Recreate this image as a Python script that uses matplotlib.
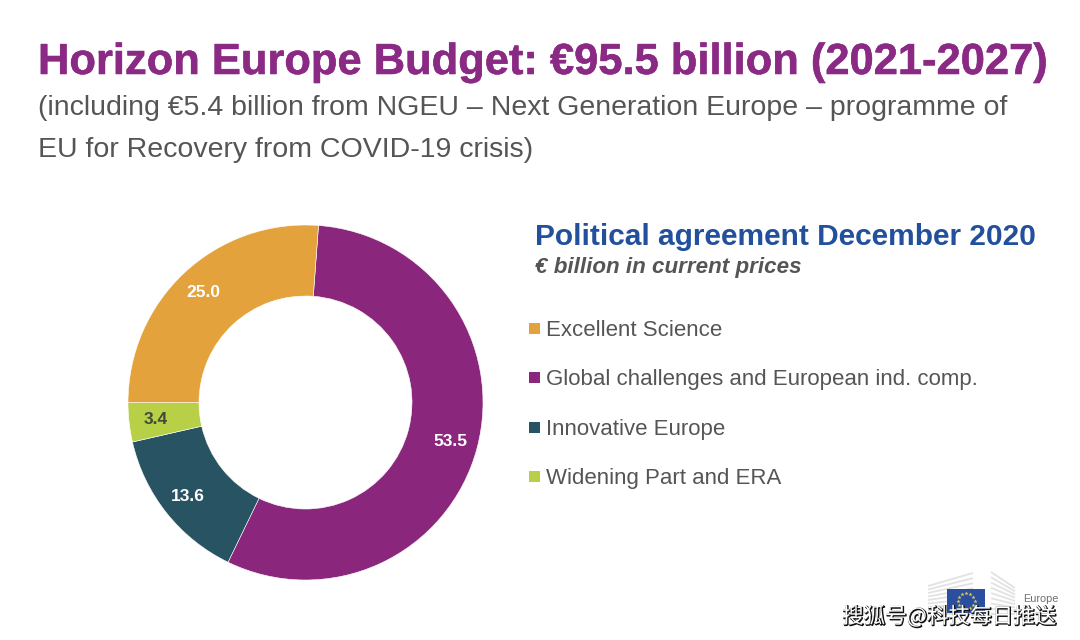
"""
Horizon Europe budget donut, drawn on a pixel-sized canvas.
"""

import matplotlib

matplotlib.use("Agg")
import matplotlib.patheffects as pe
import matplotlib.pyplot as plt
import numpy as np
from matplotlib.patches import Rectangle

plt.rcParams["font.family"] = ["Liberation Sans", "DejaVu Sans"]

W, H = 1080, 640

categories = [
    "Excellent Science",
    "Global challenges and European ind. comp.",
    "Innovative Europe",
    "Widening Part and ERA",
]
values = [25.0, 53.5, 13.6, 3.4]
colors = ["#E4A23C", "#8A277C", "#285363", "#B7D045"]
label_colors = ["white", "white", "white", "#3F4A3A"]
draw_order = [1, 2, 3, 0]

title = "Horizon Europe Budget: €95.5 billion (2021-2027)"
subtitle = [
    "(including €5.4 billion from NGEU – Next Generation Europe – programme of",
    "EU for Recovery from COVID-19 crisis)",
]
heading = "Political agreement December 2020"
subheading = "€ billion in current prices"
logo_label = "Europe"
watermark = "搜狐号@科技每日推送"

GREY = "#555555"
LOGO_GREY = "#E2E2E2"


def py(y):
    # the canvas runs y upwards, positions below are read top-down in pixels
    return H - y


def wing(ax, x0, x1, top0, top1, bottom=614, n=9):
    # building wing of the logo, slats running between two vertical edges
    for t in np.linspace(0, 1, n):
        y0 = top0 + (bottom - top0) * t
        y1 = top1 + (bottom - top1) * t
        ax.plot([x0, x1], [py(y0), py(y1)], color=LOGO_GREY, lw=1.3, solid_capstyle="butt")


fig = plt.figure(figsize=(W / 100, H / 100), dpi=100)
ax = fig.add_axes([0, 0, 1, 1])

# Donut
ordered = [values[i] for i in draw_order]
wedges, _ = ax.pie(
    ordered,
    colors=[colors[i] for i in draw_order],
    center=(305.5, py(402.5)),
    radius=177.5,
    startangle=85.8,
    counterclock=False,
    wedgeprops={"width": 71, "linewidth": 0.4, "edgecolor": "white"},
)
for wedge, i in zip(wedges, draw_order):
    mid = np.deg2rad((wedge.theta1 + wedge.theta2) / 2)
    ax.text(
        305.5 + 150.5 * np.cos(mid),
        py(402.5) + 150.5 * np.sin(mid),
        f"{values[i]:.1f}",
        color=label_colors[i],
        fontsize=12.5,
        fontweight="bold",
        ha="center",
        va="center",
    )

ax.set_xlim(0, W)
ax.set_ylim(0, H)
ax.set_aspect("equal")
ax.axis("off")

# Title block
ax.text(38, py(74), title, color="#8B2A84", fontsize=31.3, fontweight="bold", va="baseline",
        path_effects=[pe.withStroke(linewidth=0.4, foreground="#8B2A84")])
ax.text(38, py(115), subtitle[0], color=GREY, fontsize=20.5, va="baseline")
ax.text(38, py(157), subtitle[1], color=GREY, fontsize=20.5, va="baseline")

# Legend block
ax.text(535, py(245), heading, color="#22509C", fontsize=21.5, fontweight="bold", va="baseline")
ax.text(535, py(273), subheading, color=GREY, fontsize=16.1, fontweight="bold",
        fontstyle="italic", va="baseline")
for label, color, base in zip(categories, colors, [336, 385, 435, 484]):
    ax.add_patch(Rectangle((529, py(base - 2)), 11, 11, facecolor=color, edgecolor="none"))
    ax.text(546, py(base), label, color=GREY, fontsize=16, va="baseline")

# Commission logo, bottom right
wing(ax, 928, 973, 586, 573)
wing(ax, 991, 1015, 572, 588)
ax.add_patch(Rectangle((947, py(613)), 38, 24, facecolor="#2C4E9E", edgecolor="none", zorder=3))
star_angles = np.linspace(0, 2 * np.pi, 12, endpoint=False)
ax.plot(966 + 8.5 * np.cos(star_angles), py(601) + 8.5 * np.sin(star_angles), ls="none",
        marker="*", ms=3, color="#E8D44A", mew=0, zorder=4)
ax.text(1023, py(602), logo_label, color="#707070", fontsize=7.8, va="baseline")

# Watermark
ax.text(
    842, py(623), watermark, color="white", fontsize=15.5, va="baseline", zorder=6,
    family=["Noto Sans CJK SC", "DejaVu Sans"],
    path_effects=[pe.Stroke(linewidth=1.0, foreground="#111111", offset=(0.6, -0.6)), pe.Normal()],
)

fig.savefig("out.png", dpi=100, facecolor="white")
